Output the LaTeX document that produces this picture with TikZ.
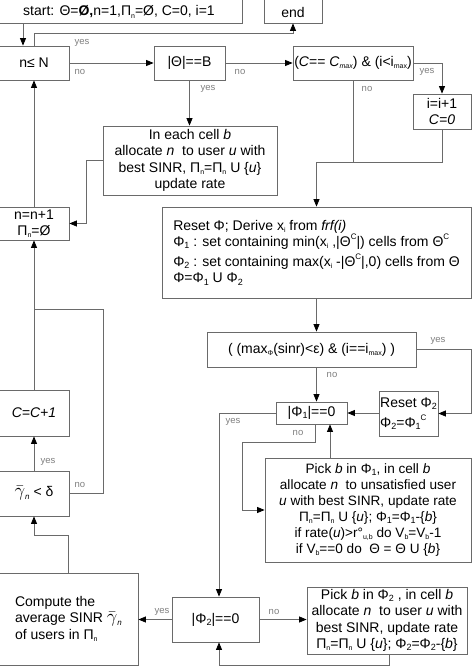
\documentclass[tikz,border=0pt]{standalone}
\usepackage{fontspec}
\usepackage{graphicx}
\setmainfont{Liberation Sans}
\usetikzlibrary{arrows.meta,fit}
\definecolor{lc}{HTML}{6A6A6A}
\definecolor{labc}{HTML}{808080}
\newcommand\lsub[1]{\raisebox{-0.3ex}{\fontsize{7}{8}\selectfont #1}}
\newcommand\psub[1]{\raisebox{-0.3ex}{\fontsize{9}{10}\selectfont #1}}
\newcommand\lsup[1]{\raisebox{0.95ex}{\fontsize{8}{9}\selectfont #1}}
\newcommand\gbar{\scalebox{1.3}{$\bar{\gamma}$}\raisebox{-0.4ex}{\fontsize{8}{9}\selectfont\textit{n}}}
\begin{document}
\begin{tikzpicture}[x=1pt,y=-1pt,
  box/.style={draw=lc, line width=0.8pt, inner sep=0pt, align=center,
    font=\fontsize{14}{16.3}\selectfont, text=black},
  txt/.style={inner sep=0pt, font=\fontsize{14}{16.3}\selectfont},
  ln/.style={draw=lc, line width=0.8pt},
  arr/.style={ln, -{Triangle[length=7.5pt,width=6pt,color=black]}},
  lab/.style={font=\fontsize{9.5}{11}\selectfont, text=labc, inner sep=0pt}]
\useasboundingbox (0,0) rectangle (474,669);
\fill[white] (0,0) rectangle (474,669);

% top boxes
\node[txt] (starttext) at (119,12) {start: Θ={\bfseries Ø,}n=1,Π\lsub{n}=Ø, C=0, i=1};
\node[box, fit={(-1,-20) (242,23)}] (start) {};
\node[txt] (endtext) at (293,12) {end};
\node[box, fit={(264,-20) (322,23)}] (end) {};

\node[box, minimum width=70pt, minimum height=34pt] (nN) at (34,63) {n≤ N};
\node[box, minimum width=71pt, minimum height=34pt] (theta) at (189.5,63) {|Θ|==B};
\node[box, minimum width=120pt, minimum height=34pt] (cmax) at (353,63)
  {(\textit{C}== \textit{C}\lsub{\textit{max}}) \& (i<i\lsub{max})};
\node[box, minimum width=58pt, minimum height=35pt] (inc) at (442,111.5) {i=i+1\\ \textit{C=0}};
\node[box, minimum width=174pt, minimum height=69pt] (alloc) at (190,160.5)
  {In each cell \textit{b}\\ allocate \textit{n}\ \ to user \textit{u} with\\ best SINR, Π\lsub{n}=Π\lsub{n} U \{\textit{u}\}\\ update rate};
\node[box, minimum width=70pt, minimum height=33pt] (nn1) at (34,223.5) {n=n+1\\ Π\lsub{n}=Ø};
\node[box, minimum width=309pt, minimum height=91pt, align=left] (reset) at (316.5,252.5)
  {Reset Φ; Derive x\lsub{i} from \textit{frf(i)}\\
   Φ\psub{1} : set containing min(x\lsub{i} ,|Θ\lsup{C}|) cells from Θ\lsup{C}\\[4pt]
   Φ\psub{2} : set containing max(x\lsub{i} -|Θ\lsup{C}|,0) cells from Θ\\
   Φ=Φ\psub{1} U Φ\psub{2}};
\node[box, minimum width=209pt, minimum height=35pt] (maxbox) at (311.5,349.5)
  {( (max\lsub{Φ}(sinr)<ε) \& (i==i\lsub{max}) )};
\node[box, minimum width=71pt, minimum height=22pt] (phi1) at (311.5,413) {|Φ\psub{1}|==0};
\node[box, minimum width=59pt, minimum height=45pt, align=left] (resetp2) at (408.5,413.5)
  {Reset Φ\psub{2}\\[4pt] Φ\psub{2}=Φ\psub{1}\lsup{C}};
\node[box, minimum width=206pt, minimum height=104pt, font=\fontsize{13.6}{16}\selectfont] (pick1) at (368,510)
  {Pick \textit{b} in Φ\psub{1}, in cell \textit{b}\\ allocate \textit{n}\ \ to unsatisfied user\\
   \textit{u} with best SINR, update rate\\ Π\lsub{n}=Π\lsub{n} U \{\textit{u}\}; Φ\psub{1}=Φ\psub{1}-\{\textit{b}\}\\
   if rate(\textit{u})>r°\lsub{u,b} do V\lsub{b}=V\lsub{b}-1\\ if V\lsub{b}==0 do\ \ Θ = Θ U \{\textit{b}\}};
\node[box, minimum width=87pt, minimum height=45pt] (phi2) at (215.5,619.5) {|Φ\psub{2}|==0};
\node[box, minimum width=160pt, minimum height=67pt] (pick2) at (387,620.5)
  {Pick \textit{b} in Φ\psub{2} , in cell \textit{b}\\ allocate \textit{n}\ \ to user \textit{u} with\\
   best SINR, update rate\\ Π\lsub{n}=Π\lsub{n} U \{\textit{u}\}; Φ\psub{2}=Φ\psub{2}-\{\textit{b}\}};
\node[box, minimum width=139pt, minimum height=92pt, align=left] (compute) at (68.5,619)
  {Compute the\\ average SINR \gbar\\ of users in Π\lsub{n}};
\node[box, minimum width=70pt, minimum height=45pt] (gamma) at (34,493.5) {\gbar\ < δ};
\node[box, minimum width=70pt, minimum height=46pt] (cc1) at (34,413) {\textit{C=C+1}};

% waypoints
\coordinate (j1) at (316.5,162);
\coordinate (j2) at (34,309);
\coordinate (j3) at (103,309);
\coordinate (j4) at (34,535);
\coordinate (j5) at (471,349.5);
\coordinate (j6) at (219,413);
\coordinate (j7) at (315,442);
\coordinate (j8) at (242,442);
\coordinate (j9) at (330,0);
\coordinate (j10) at (389,665);

% connectors
\draw[arr] ([xshift=-11pt]nN.north |- start.south) -- ([xshift=-11pt]nN.north);
\draw[arr] (nN.north) -- ++(0,-12) -| (end.south);
\draw[arr] (nN.east) -- (theta.west);
\draw[arr] (theta.east) -- (cmax.west);
\draw[arr] (cmax.east) -| (inc.north);
\draw[ln] (cmax.south) |- (j1);
\draw[ln] (inc.south) |- (j1);
\draw[arr] (j1) -- (reset.north);
\draw[arr] (theta.south) -- (theta.south |- alloc.north);
\draw[arr] (alloc.west) -- ++(-16,0) |- (nn1.east);
\draw[arr] (nn1.north) -- (nN.south);
\draw[arr] (gamma.east) -| (j3) -- (j2) -- (nn1.south);
\draw[ln] (cc1.north) -- (j2);
\draw[arr] (gamma.north) -- (cc1.south);
\draw[arr] (compute.north) |- (j4) -- (gamma.south);
\draw[arr] (reset.south) -- (reset.south |- maxbox.north);
\draw[arr] (maxbox.east) -- (j5) |- (resetp2.east);
\draw[arr] (reset.south |- maxbox.south) -- (reset.south |- phi1.north);
\draw[arr] (resetp2.west |- phi1.east) -- (phi1.east);
\draw[arr] (phi1.west) -- (j6) -- (j6 |- phi2.north);
\draw[arr] (phi1.south -| j7) -- (j7) -- (j8) |- (pick1.west);
\draw[arr] (pick1.north -| j9) -- (phi1.south -| j9);
\draw[arr] (phi2.west) -- (phi2.west -| compute.east);
\draw[arr] (phi2.east) -- (phi2.east -| pick2.west);
\draw[arr] (pick2.south -| j10) -- (j10) -| (phi2.south -| j6);

% labels
\node[lab] (l1) at (82,43) {yes};
\node[lab] (l2) at (80,72) {no};
\node[lab] (l3) at (240,72) {no};
\node[lab] (l4) at (208,89) {yes};
\node[lab] (l5) at (427,72) {yes};
\node[lab] (l6) at (367,89) {no};
\node[lab] (l7) at (438,341) {yes};
\node[lab] (l8) at (332,375) {no};
\node[lab] (l9) at (233,422) {yes};
\node[lab] (l10) at (298,433) {no};
\node[lab] (l11) at (48,462) {yes};
\node[lab] (l12) at (80,485) {no};
\node[lab] (l13) at (162,612) {yes};
\node[lab] (l14) at (274,612) {no};
\end{tikzpicture}
\end{document}
